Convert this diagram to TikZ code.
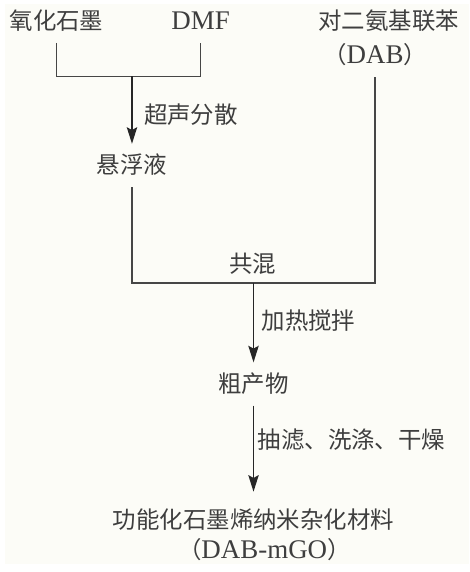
\documentclass[tikz,border=0pt]{standalone}
\usepackage{fontspec}
\setmainfont{Noto Sans CJK SC}
\newfontfamily\latinfont{Liberation Serif}[Scale=1.15]
\usepackage{tikz}
\usetikzlibrary{arrows.meta}
\definecolor{paperbg}{RGB}{252,252,247}
\definecolor{inkcolor}{RGB}{62,62,62}
\definecolor{pipecolor}{RGB}{70,70,70}
\newcommand{\lat}[1]{{\latinfont #1}}

\begin{document}
\begin{tikzpicture}[
    x=0.025cm, y=-0.025cm,
    stage/.style={inner sep=7pt, text=inkcolor, text height=14.5pt, text depth=2.5pt, font=\fontsize{17pt}{20pt}\selectfont},
    note/.style={anchor=west, inner sep=0pt, text=inkcolor, font=\fontsize{17pt}{20pt}\selectfont},
    pipe/.style={draw=pipecolor, line width=1pt},
    flow/.style={draw=black!85, line width=1.2pt, -{Stealth[length=12pt, width=7.5pt, inset=2pt]}},
]
    % Background
    \fill[paperbg] (0,0) rectangle (474,572);

    % Raw materials
    \node[stage] (go) at (53,18) {氧化石墨};
    \node[stage] (dmf) at (200,18) {\lat{DMF}};
    \node[stage] (dab) at (392,18) {对二氨基联苯};
    \node[stage] (dababbr) at (378,53) {（\lat{DAB}）};

    % Dispersion
    \coordinate (sonic) at (130,74);
    \node[stage] (susp) at (130,165) {悬浮液};
    \draw[pipe] (go) |- (sonic) -| (dmf);
    \draw[flow] (sonic) -- (susp);
    \node[note] (ultra) at (142,113) {超声分散};

    % Blending
    \coordinate (mix) at (254,285);
    \node[stage] (blend) at (253,266) {共混};
    \draw[pipe] (susp) |- (mix) -| (dababbr);

    % Reaction
    \node[stage] (crude) at (254,388) {粗产物};
    \draw[flow] (mix) -- (crude);
    \node[note] (heat) at (262,323) {加热搅拌};

    % Work-up
    \node[stage, inner ysep=12pt] (product) at (254,527) {功能化石墨烯纳米杂化材料};
    \node[stage] (prodabbr) at (265,558) {（\lat{DAB-mGO}）};
    \draw[flow] (crude) -- (product);
    \node[note] (wash) at (258,445) {抽滤、洗涤、干燥};

\end{tikzpicture}
\end{document}
